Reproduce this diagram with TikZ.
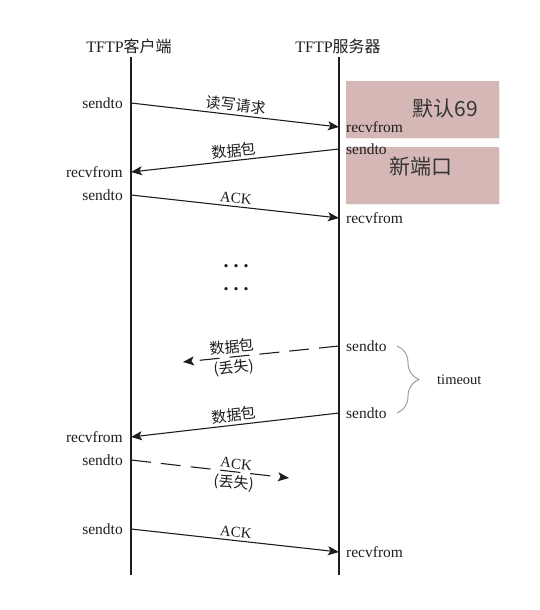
\documentclass[tikz,border=0pt]{standalone}
\usepackage{fontspec}
\setmainfont{Liberation Serif}
\newfontfamily\cjk{Noto Sans CJK SC}
\usetikzlibrary{arrows.meta,decorations.pathreplacing,shadows}
\definecolor{boxpink}{RGB}{213,184,182}
\definecolor{ink}{RGB}{30,30,30}
\definecolor{bracegray}{RGB}{150,150,150}
\begin{document}
\begin{tikzpicture}[x=1pt,y=-1pt,
  life/.style={line width=1.5pt, draw=ink},
  msg/.style={line width=1.1pt, draw=ink, -{Stealth[length=11pt,width=9pt,inset=2.5pt]}},
  lost/.style={msg, dash pattern=on 20pt off 10pt},
  lbl/.style={inner sep=0pt, text=ink, font=\fontsize{15.5}{18}\selectfont},
  rlbl/.style={lbl, anchor=east},
  llbl/.style={lbl, anchor=west},
  title/.style={inner sep=0pt, text=ink, font=\fontsize{16}{19}\selectfont},
  arr/.style={inner sep=2.5pt, text=ink, font=\fontsize{15}{18}\selectfont, sloped},
  arrb/.style={arr, inner sep=3pt},
  portbox/.style={fill=boxpink, draw=none, inner sep=0pt, anchor=north west,
     minimum width=153pt, minimum height=57pt,
     drop shadow={opacity=0.12, shadow xshift=1pt, shadow yshift=-1pt}},
  porttext/.style={inner sep=0pt, text=ink!90, font=\cjk\fontsize{21}{24}\selectfont},
  dots/.style={inner sep=0pt, text=ink, font=\bfseries\fontsize{20}{22}\selectfont}]
\useasboundingbox (0,0) rectangle (539,610);

% titles
\node[title] (tc) at (129,46) {TFTP{\cjk 客户端}};
\node[title] (ts) at (338,46) {TFTP{\cjk 服务器}};

% port boxes
\node[portbox] (b1) at (346,81) {};
\node[portbox] (b2) at (346,147) {};
\node[porttext] (t69) at (445,109) {默认69};
\node[porttext] (tnew) at (421,166) {新端口};

% lifelines
\coordinate (ctop) at (131,57);
\coordinate (cbot) at (131,575);
\coordinate (stop) at (339,57);
\coordinate (sbot) at (339,575);
\draw[life] (ctop) -- (cbot);
\draw[life] (stop) -- (sbot);

% endpoint labels
\node[rlbl] (c1) at (123,103) {sendto};
\node[llbl] (s1) at (346,127) {recvfrom};
\node[llbl] (s2) at (346,149) {sendto};
\node[rlbl] (c2) at (123,172) {recvfrom};
\node[rlbl] (c3) at (123,195) {sendto};
\node[llbl] (s3) at (346,218) {recvfrom};
\node[llbl] (s4) at (346,346) {sendto};
\node[llbl] (s5) at (346,413) {sendto};
\node[rlbl] (c4) at (123,437) {recvfrom};
\node[rlbl] (c5) at (123,460) {sendto};
\node[rlbl] (c6) at (123,529) {sendto};
\node[llbl] (s6) at (346,552) {recvfrom};

% lost-message ends
\coordinate (lost1) at (183,362);
\coordinate (lost2) at (289,478);

% messages
\draw[msg] (ctop |- c1) -- node[arr, above] (m1) {\cjk 读写请求} (stop |- s1);
\draw[msg] (stop |- s2) -- node[arr, above] (m2) {\cjk 数据包} (ctop |- c2);
\draw[msg] (ctop |- c3) -- node[arr, above] (m3) {ACK} (stop |- s3);
\draw[lost] (stop |- s4) -- node[arr, above, pos=0.68] (m4) {\cjk 数据包}
                           node[arrb, below, pos=0.68] (m4b) {\cjk (丢失)} (lost1);
\draw[msg] (stop |- s5) -- node[arr, above] (m5) {\cjk 数据包} (ctop |- c4);
\draw[lost] (ctop |- c5) -- node[arr, above, pos=0.66] (m6) {ACK}
                           node[arrb, below, pos=0.66] (m6b) {\cjk (丢失)} (lost2);
\draw[msg] (ctop |- c6) -- node[arr, above] (m7) {ACK} (stop |- s6);

% dots
\node[dots] (d1) at (236,266) {.\hspace{5pt}.\hspace{5pt}.};
\node[dots] (d2) at (236,289) {.\hspace{5pt}.\hspace{5pt}.};

% timeout brace
\coordinate (brtop) at (397,346);
\coordinate (brbot) at (397,413);
\draw[bracegray, line width=0.9pt, decorate, decoration={brace, amplitude=22pt}] (brtop) -- (brbot);
\node[lbl, anchor=west, font=\fontsize{14.5}{17}\selectfont] (tmo) at (437,380) {timeout};
\end{tikzpicture}
\end{document}
